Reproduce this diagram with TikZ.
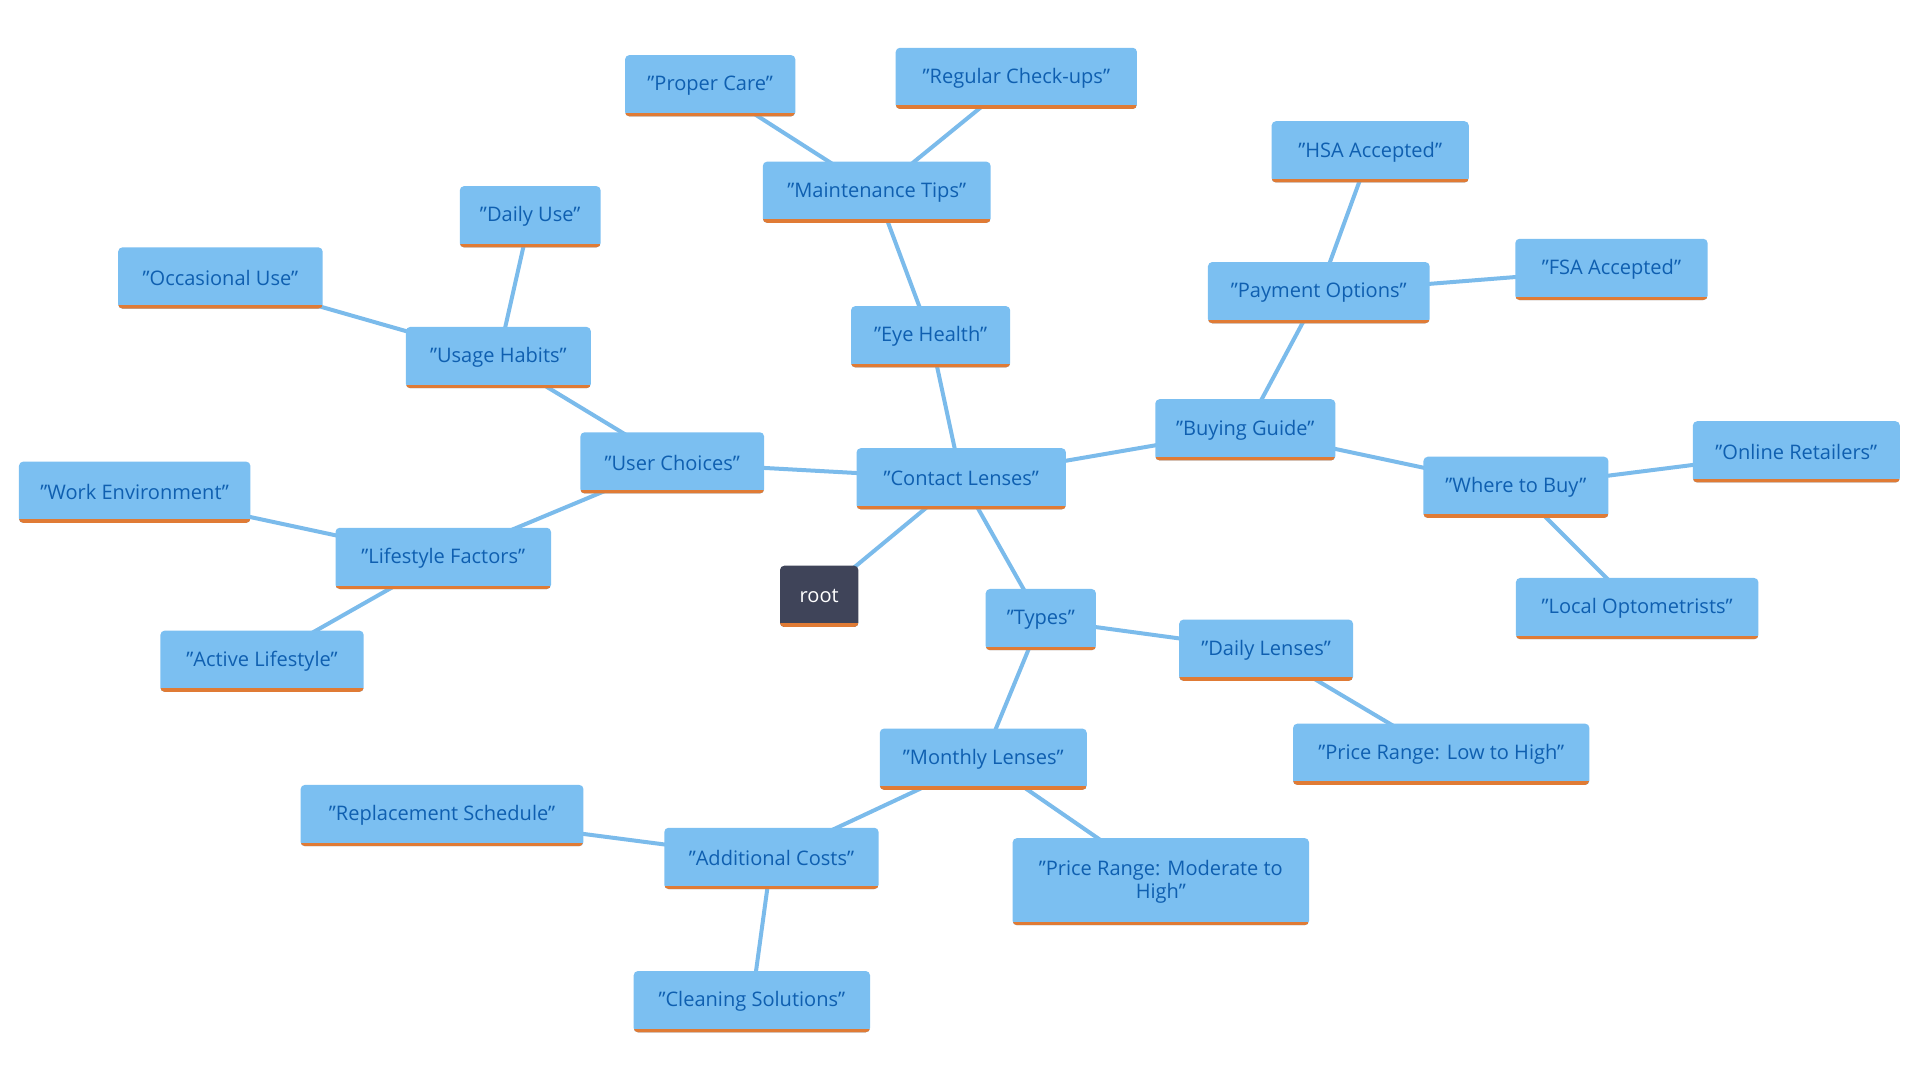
\documentclass[tikz,border=0pt]{standalone}
\usepackage{fontspec}
\setmainfont{Open Sans}
\usetikzlibrary{backgrounds}
\definecolor{boxfill}{HTML}{7BBFF1}
\definecolor{boxtext}{HTML}{0F5FB0}
\definecolor{boxline}{HTML}{E07B35}
\definecolor{edgecol}{HTML}{7BBBEB}
\definecolor{rootfill}{HTML}{3F4459}
\tikzset{
  box/.style={fill=boxfill, text=boxtext, rounded corners=1.2pt, inner sep=0pt,
    minimum height=0.612cm, align=center, font=\fontsize{5.7}{6.6}\selectfont,
    path picture={\draw[boxline, line width=0.07cm]
      (path picture bounding box.south west) -- (path picture bounding box.south east);}},
  w/.style={minimum width=#1*0.012245cm},
  link/.style={edgecol, line width=0.04cm}
}
\begin{document}
\begin{tikzpicture}[x=0.012245cm, y=-0.012245cm]
    \useasboundingbox (0,0) rectangle (1568,882);

    \node[box, w=171] (lenses) at (785,391) {"Contact Lenses"};
    \node[box, w=64, fill=rootfill, text=white] (root) at (669,487) {root};

    % eye health
    \node[box, w=130] (eye) at (760,275) {"Eye Health"};
    \node[box, w=186] (maint) at (716,157) {"Maintenance Tips"};
    \node[box, w=139] (care) at (580,70) {"Proper Care"};
    \node[box, w=197] (checkup) at (830,64) {"Regular Check-ups"};

    % buying guide
    \node[box, w=147] (buying) at (1017,351) {"Buying Guide"};
    \node[box, w=181] (payment) at (1077,239) {"Payment Options"};
    \node[box, w=161] (hsa) at (1119,124) {"HSA Accepted"};
    \node[box, w=157] (fsa) at (1316,220) {"FSA Accepted"};
    \node[box, w=151] (where) at (1238,398) {"Where to Buy"};
    \node[box, w=169] (online) at (1467,369) {"Online Retailers"};
    \node[box, w=198] (local) at (1337,497) {"Local Optometrists"};

    % types
    \node[box, w=90] (types) at (850,506) {"Types"};
    \node[box, w=142] (daily) at (1034,531) {"Daily Lenses"};
    \node[box, w=242] (pricelow) at (1177,616) {"Price Range: Low to High"};
    \node[box, w=169] (monthly) at (803,620) {"Monthly Lenses"};
    \node[box, w=242, minimum height=0.87cm] (pricemod) at (948,720) {"Price Range: Moderate to\\High"};
    \node[box, w=175] (costs) at (630,701) {"Additional Costs"};
    \node[box, w=231] (replace) at (361,666) {"Replacement Schedule"};
    \node[box, w=193] (clean) at (614,818) {"Cleaning Solutions"};

    % user choices
    \node[box, w=150] (user) at (549,378) {"User Choices"};
    \node[box, w=151] (usage) at (407,292) {"Usage Habits"};
    \node[box, w=115] (dailyuse) at (433,177) {"Daily Use"};
    \node[box, w=167] (occasional) at (180,227) {"Occasional Use"};
    \node[box, w=176] (lifestyle) at (362,456) {"Lifestyle Factors"};
    \node[box, w=189] (work) at (110,402) {"Work Environment"};
    \node[box, w=166] (active) at (214,540) {"Active Lifestyle"};

    \begin{scope}[on background layer]
    \foreach \a/\b in {lenses/root, lenses/eye, eye/maint, maint/care, maint/checkup,
        lenses/buying, buying/payment, payment/hsa, payment/fsa, buying/where,
        where/online, where/local, lenses/types, types/daily, daily/pricelow,
        types/monthly, monthly/pricemod, monthly/costs, costs/replace, costs/clean,
        lenses/user, user/usage, usage/dailyuse, usage/occasional, user/lifestyle,
        lifestyle/work, lifestyle/active}
        \draw[link] (\a.center) -- (\b.center);
    \end{scope}
\end{tikzpicture}
\end{document}
